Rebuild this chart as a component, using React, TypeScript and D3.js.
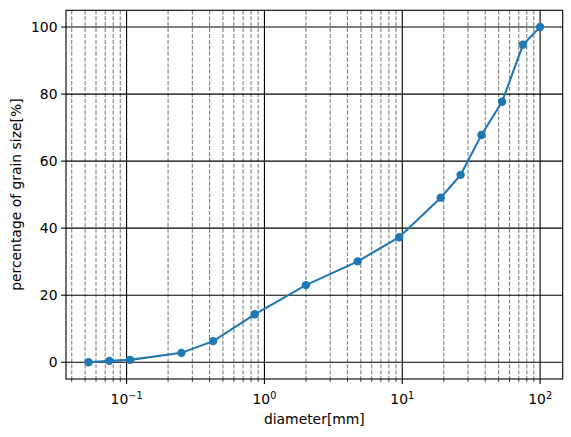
import React from "react";
import * as d3 from "d3";

const diameters = [0.053, 0.075, 0.106, 0.25, 0.425, 0.85, 2, 4.75, 9.5, 19, 26.5, 37.5, 53, 75, 100];
const percents = [0, 0.4, 0.7, 2.8, 6.3, 14.3, 23, 30.1, 37.3, 49.1, 55.9, 67.8, 77.7, 94.7, 100];
const yTicks = [0, 20, 40, 60, 80, 100];
const xMajorExps = [-1, 0, 1, 2];
const xLabel = "diameter[mm]";
const yLabel = "percentage of grain size[%]";

const W = 571, H = 437;
const L = 66, R = 562.7, T = 10.3, B = 379;
const FONT = "DejaVu Sans, sans-serif";
const COLOR = "#1f77b4";

export default function App() {
  const lo = Math.log10(d3.min(diameters)!);
  const hi = Math.log10(d3.max(diameters)!);
  const pad = 0.05 * (hi - lo);
  const x = d3.scaleLog().domain([Math.pow(10, lo - pad), Math.pow(10, hi + pad)]).range([L, R]);
  const y = d3.scaleLinear().domain([-5, 105]).range([B, T]);

  const [d0, d1] = x.domain();
  const minors: number[] = [];
  for (let e = Math.floor(Math.log10(d0)); e <= Math.ceil(Math.log10(d1)); e++) {
    for (let m = 2; m <= 9; m++) {
      const v = m * Math.pow(10, e);
      if (v >= d0 && v <= d1) minors.push(v);
    }
  }

  const line = d3.line<number>()
    .x((_, i) => x(diameters[i]))
    .y((d) => y(d));

  return (
    <svg width={W} height={H} style={{ position: "absolute", left: 0, top: 0 }} fontFamily={FONT}>
      <rect x={0} y={0} width={W} height={H} fill="white" />
      {/* minor grid */}
      {minors.map((v) => (
        <line key={"mg" + v} x1={x(v)} x2={x(v)} y1={T} y2={B} stroke="#808080" strokeWidth={1.1} strokeDasharray="4.1,1.8" />
      ))}
      {/* major x grid */}
      {xMajorExps.map((e) => (
        <line key={"Mg" + e} x1={x(Math.pow(10, e))} x2={x(Math.pow(10, e))} y1={T} y2={B} stroke="black" strokeWidth={1.1} />
      ))}
      {yTicks.map((t) => (
        <line key={"yg" + t} x1={L} x2={R} y1={y(t)} y2={y(t)} stroke="black" strokeWidth={1.1} />
      ))}
      {/* data */}
      <path d={line(percents) || ""} fill="none" stroke={COLOR} strokeWidth={2.08} />
      {percents.map((p, i) => (
        <circle key={"pt" + i} cx={x(diameters[i])} cy={y(p)} r={4.2} fill={COLOR} />
      ))}
      {/* spines */}
      <rect x={L} y={T} width={R - L} height={B - T} fill="none" stroke="black" strokeWidth={1.1} />
      {/* x ticks */}
      {minors.map((v) => (
        <line key={"mt" + v} x1={x(v)} x2={x(v)} y1={B} y2={B + 2.8} stroke="black" strokeWidth={0.8} />
      ))}
      {xMajorExps.map((e) => {
        const px = x(Math.pow(10, e));
        return (
          <g key={"xt" + e}>
            <line x1={px} x2={px} y1={B} y2={B + 4.9} stroke="black" strokeWidth={1.1} />
            <text x={px} y={404} textAnchor="middle" fontSize={13.9} fill="black">
              10<tspan fontSize={9.7} dy={-5}>{e < 0 ? "\u2212" + Math.abs(e) : String(e)}</tspan>
            </text>
          </g>
        );
      })}
      {/* y ticks */}
      {yTicks.map((t) => (
        <g key={"yt" + t}>
          <line x1={L - 4.9} x2={L} y1={y(t)} y2={y(t)} stroke="black" strokeWidth={1.1} />
          <text x={L - 8.5} y={y(t)} dy="0.36em" textAnchor="end" fontSize={13.9} fill="black">{t}</text>
        </g>
      ))}
      <text x={(L + R) / 2} y={424} textAnchor="middle" fontSize={13.9} fill="black">{xLabel}</text>
      <text transform={`translate(20.5,${(T + B) / 2}) rotate(-90)`} textAnchor="middle" fontSize={13.9} fill="black">{yLabel}</text>
    </svg>
  );
}
